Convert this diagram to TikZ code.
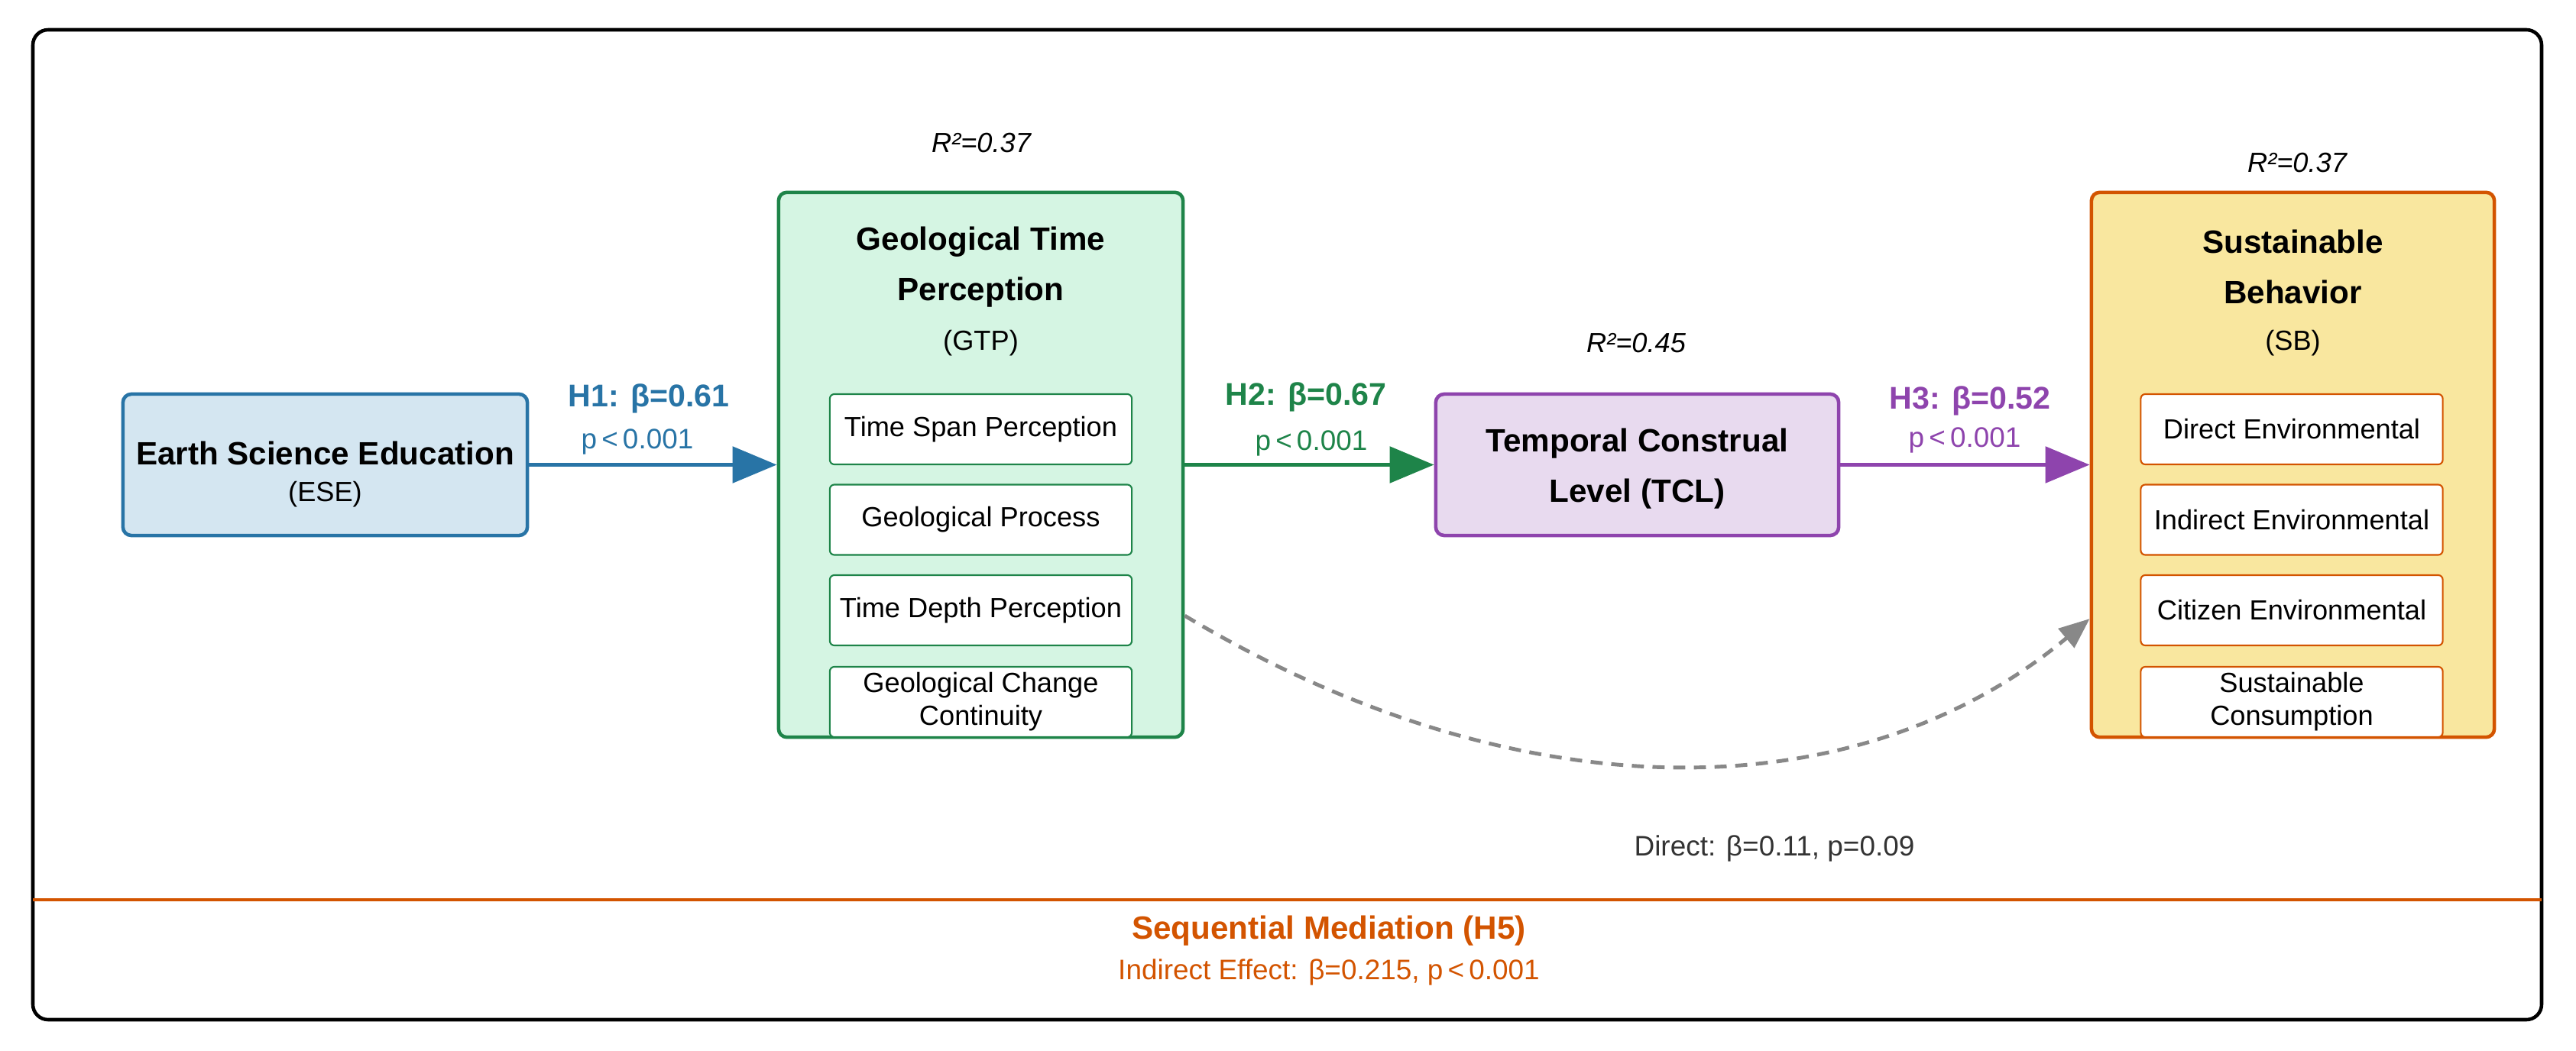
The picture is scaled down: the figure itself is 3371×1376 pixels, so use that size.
\documentclass[tikz,border=0pt]{standalone}
\usepackage{fontspec}
\setmainfont{Liberation Sans}
\usetikzlibrary{arrows.meta}
\definecolor{blueL}{HTML}{2874A6}
\definecolor{blueF}{HTML}{D4E6F1}
\definecolor{greenL}{HTML}{1E8449}
\definecolor{greenF}{HTML}{D5F5E3}
\definecolor{purpL}{HTML}{8E44AD}
\definecolor{purpF}{HTML}{E8DAEF}
\definecolor{orangeL}{HTML}{D35400}
\definecolor{yellowF}{HTML}{F9E79F}
\definecolor{grayL}{HTML}{888888}
\definecolor{darkT}{HTML}{333333}
\begin{document}
\begin{tikzpicture}[x=0.01cm,y=-0.01cm,
  mainbox/.style={draw, rounded corners=0.11cm, line width=1.3pt, minimum width=5.29cm, inner sep=0pt},
  subbox/.style={draw, fill=white, rounded corners=0.06cm, line width=0.6pt, minimum width=3.95cm, minimum height=0.92cm, inner sep=0pt, align=center, font=\fontsize{10.3}{12.2}\selectfont},
  ttl/.style={font=\fontsize{12}{19}\selectfont\bfseries, align=center, inner sep=0pt},
  abbr/.style={font=\fontsize{10.3}{12}\selectfont, inner sep=0pt},
  rsq/.style={font=\fontsize{10.3}{12}\selectfont\itshape, inner sep=0pt},
  hlab/.style={font=\fontsize{11.7}{14}\selectfont\bfseries, inner sep=0pt},
  plab/.style={font=\fontsize{10.5}{12}\selectfont, inner sep=0pt},
  patharrow/.style={line width=1.6pt, -{Triangle[length=0.58cm,width=0.47cm]}},
]
\useasboundingbox[fill=white] (0,0) rectangle (3371,1376);
% frame
\draw[line width=1.3pt, rounded corners=0.2cm] (43,39) rectangle (3326,1335);
\draw[orangeL, line width=1.2pt] (43,1178) -- (3326,1178);

% main boxes
\node[mainbox, draw=blueL, fill=blueF, minimum height=1.85cm] (ese) at (425.5,608.5) {};
\node[mainbox, draw=greenL, fill=greenF, minimum height=7.13cm] (gtp) at (1283.5,608.5) {};
\node[mainbox, draw=purpL, fill=purpF, minimum width=5.27cm, minimum height=1.85cm] (tcl) at (2142.5,608.5) {};
\node[mainbox, draw=orangeL, fill=yellowF, minimum width=5.27cm, minimum height=7.13cm] (sb) at (3000.5,608.5) {};

% box titles
\node[ttl] (eset) at (425.5,593) {Earth Science Education};
\node[abbr] (esea) at (425.5,647) {(ESE)};
\node[ttl] (gtpt) at (1283.5,349.5) {Geological Time\\Perception};
\node[abbr] (gtpa) at (1283.5,449) {(GTP)};
\node[ttl] (tclt) at (2142.5,613.5) {Temporal Construal\\Level (TCL)};
\node[ttl] (sbt) at (3000.5,349.5) {Sustainable\\Behavior};
\node[abbr] (sba) at (3000.5,449) {(SB)};

% sub boxes GTP
\node[subbox, draw=greenL] (g1) at (1283.5,562) {Time Span Perception};
\node[subbox, draw=greenL] (g2) at (1283.5,680.5) {Geological Process};
\node[subbox, draw=greenL] (g3) at (1283.5,799) {Time Depth Perception};
\node[subbox, draw=greenL] (g4) at (1283.5,919) {Geological Change\\Continuity};
% sub boxes SB
\node[subbox, draw=orangeL] (s1) at (2999,562) {Direct Environmental};
\node[subbox, draw=orangeL] (s2) at (2999,680.5) {Indirect Environmental};
\node[subbox, draw=orangeL] (s3) at (2999,799) {Citizen Environmental};
\node[subbox, draw=orangeL] (s4) at (2999,919) {Sustainable\\Consumption};

% R squared
\node[rsq] (r1) at (1284,187) {R²=0.37};
\node[rsq] (r2) at (2141,449) {R²=0.45};
\node[rsq] (r3) at (3006,213) {R²=0.37};

% arrows
\draw[patharrow, blueL] (ese.east) -- (gtp.west);
\draw[patharrow, greenL] (gtp.east) -- (tcl.west);
\draw[patharrow, purpL] (tcl.east) -- (sb.west);

\node[hlab, text=blueL] (h1) at (849,522) {H1: β=0.61};
\node[plab, text=blueL] (p1) at (834,578) {p\,<\,0.001};
\node[hlab, text=greenL] (h2) at (1709,520) {H2: β=0.67};
\node[plab, text=greenL] (p2) at (1716,580) {p\,<\,0.001};
\node[hlab, text=purpL] (h3) at (2578,525) {H3: β=0.52};
\node[plab, text=purpL] (p3) at (2571,576) {p\,<\,0.001};

% direct effect (dashed)
\draw[grayL, line width=1.4pt, dash pattern=on 4.5pt off 3.2pt, -{Triangle[length=0.4cm,width=0.32cm]}]
  ([yshift=-1.975cm]gtp.east) .. controls +(430,258) and +(-310,258) .. ([yshift=-2.015cm]sb.west);
\node[plab, text=darkT] (direct) at (2322,1111) {Direct: β=0.11, p=0.09};

% sequential mediation
\node[font=\fontsize{12}{14}\selectfont\bfseries, text=orangeL, inner sep=0pt] (h5) at (1739,1219) {Sequential Mediation (H5)};
\node[plab, text=orangeL] (ind) at (1739,1273) {Indirect Effect: β=0.215, p\,<\,0.001};
\end{tikzpicture}
\end{document}
